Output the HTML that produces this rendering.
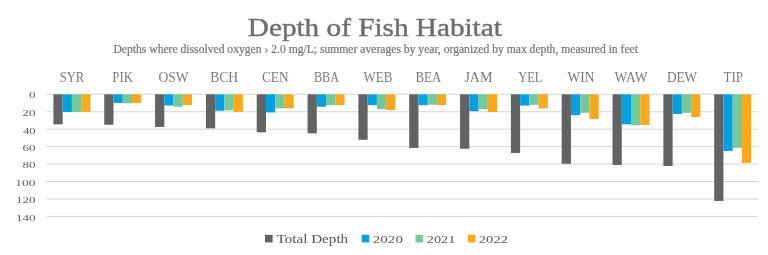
<!DOCTYPE html>
<html><head><meta charset="utf-8"><style>
html,body{margin:0;padding:0;background:#fff;width:768px;height:255px;overflow:hidden}
svg{display:block;will-change:transform}
text{font-family:"Liberation Serif",serif}
</style></head><body>
<svg width="768" height="255" viewBox="0 0 768 255">
<rect x="46.5" y="93.80" width="711.5" height="1" fill="#d6d6d6"/>
<rect x="46.5" y="111.24" width="711.5" height="1" fill="#d6d6d6"/>
<rect x="46.5" y="128.68" width="711.5" height="1" fill="#d6d6d6"/>
<rect x="46.5" y="146.12" width="711.5" height="1" fill="#d6d6d6"/>
<rect x="46.5" y="163.56" width="711.5" height="1" fill="#d6d6d6"/>
<rect x="46.5" y="181.00" width="711.5" height="1" fill="#d6d6d6"/>
<rect x="46.5" y="198.44" width="711.5" height="1" fill="#d6d6d6"/>
<rect x="46.5" y="215.88" width="711.5" height="1" fill="#d6d6d6"/>
<rect x="53.41" y="94.30" width="9.25" height="30.05" fill="#636365"/>
<rect x="62.66" y="94.30" width="9.25" height="17.65" fill="#05a0e2"/>
<rect x="71.91" y="94.30" width="9.25" height="17.65" fill="#72c99a"/>
<rect x="81.16" y="94.30" width="9.25" height="17.65" fill="#f9a81d"/>
<rect x="104.24" y="94.30" width="9.25" height="30.45" fill="#636365"/>
<rect x="113.49" y="94.30" width="9.25" height="8.65" fill="#05a0e2"/>
<rect x="122.74" y="94.30" width="9.25" height="9.05" fill="#72c99a"/>
<rect x="131.99" y="94.30" width="9.25" height="8.65" fill="#f9a81d"/>
<rect x="155.06" y="94.30" width="9.25" height="32.65" fill="#636365"/>
<rect x="164.31" y="94.30" width="9.25" height="11.25" fill="#05a0e2"/>
<rect x="173.56" y="94.30" width="9.25" height="12.45" fill="#72c99a"/>
<rect x="182.81" y="94.30" width="9.25" height="10.85" fill="#f9a81d"/>
<rect x="205.90" y="94.30" width="9.25" height="34.05" fill="#636365"/>
<rect x="215.15" y="94.30" width="9.25" height="16.45" fill="#05a0e2"/>
<rect x="224.40" y="94.30" width="9.25" height="16.05" fill="#72c99a"/>
<rect x="233.65" y="94.30" width="9.25" height="17.65" fill="#f9a81d"/>
<rect x="256.72" y="94.30" width="9.25" height="38.05" fill="#636365"/>
<rect x="265.97" y="94.30" width="9.25" height="18.05" fill="#05a0e2"/>
<rect x="275.22" y="94.30" width="9.25" height="14.05" fill="#72c99a"/>
<rect x="284.47" y="94.30" width="9.25" height="14.05" fill="#f9a81d"/>
<rect x="307.56" y="94.30" width="9.25" height="39.05" fill="#636365"/>
<rect x="316.81" y="94.30" width="9.25" height="12.45" fill="#05a0e2"/>
<rect x="326.06" y="94.30" width="9.25" height="10.85" fill="#72c99a"/>
<rect x="335.31" y="94.30" width="9.25" height="10.85" fill="#f9a81d"/>
<rect x="358.38" y="94.30" width="9.25" height="45.45" fill="#636365"/>
<rect x="367.63" y="94.30" width="9.25" height="10.85" fill="#05a0e2"/>
<rect x="376.88" y="94.30" width="9.25" height="14.85" fill="#72c99a"/>
<rect x="386.13" y="94.30" width="9.25" height="15.65" fill="#f9a81d"/>
<rect x="409.21" y="94.30" width="9.25" height="53.65" fill="#636365"/>
<rect x="418.46" y="94.30" width="9.25" height="10.85" fill="#05a0e2"/>
<rect x="427.71" y="94.30" width="9.25" height="10.45" fill="#72c99a"/>
<rect x="436.96" y="94.30" width="9.25" height="10.85" fill="#f9a81d"/>
<rect x="460.05" y="94.30" width="9.25" height="54.45" fill="#636365"/>
<rect x="469.30" y="94.30" width="9.25" height="16.85" fill="#05a0e2"/>
<rect x="478.55" y="94.30" width="9.25" height="14.85" fill="#72c99a"/>
<rect x="487.80" y="94.30" width="9.25" height="17.65" fill="#f9a81d"/>
<rect x="510.88" y="94.30" width="9.25" height="58.65" fill="#636365"/>
<rect x="520.12" y="94.30" width="9.25" height="11.25" fill="#05a0e2"/>
<rect x="529.38" y="94.30" width="9.25" height="10.45" fill="#72c99a"/>
<rect x="538.62" y="94.30" width="9.25" height="14.05" fill="#f9a81d"/>
<rect x="561.71" y="94.30" width="9.25" height="69.45" fill="#636365"/>
<rect x="570.96" y="94.30" width="9.25" height="20.85" fill="#05a0e2"/>
<rect x="580.21" y="94.30" width="9.25" height="18.45" fill="#72c99a"/>
<rect x="589.46" y="94.30" width="9.25" height="24.65" fill="#f9a81d"/>
<rect x="612.53" y="94.30" width="9.25" height="70.65" fill="#636365"/>
<rect x="621.78" y="94.30" width="9.25" height="30.05" fill="#05a0e2"/>
<rect x="631.03" y="94.30" width="9.25" height="31.05" fill="#72c99a"/>
<rect x="640.28" y="94.30" width="9.25" height="30.65" fill="#f9a81d"/>
<rect x="663.37" y="94.30" width="9.25" height="71.65" fill="#636365"/>
<rect x="672.62" y="94.30" width="9.25" height="19.65" fill="#05a0e2"/>
<rect x="681.87" y="94.30" width="9.25" height="18.45" fill="#72c99a"/>
<rect x="691.12" y="94.30" width="9.25" height="22.65" fill="#f9a81d"/>
<rect x="714.19" y="94.30" width="9.25" height="106.65" fill="#636365"/>
<rect x="723.44" y="94.30" width="9.25" height="56.65" fill="#05a0e2"/>
<rect x="732.69" y="94.30" width="9.25" height="53.45" fill="#72c99a"/>
<rect x="741.94" y="94.30" width="9.25" height="68.65" fill="#f9a81d"/>
<rect x="265" y="234.8" width="7.6" height="7.6" fill="#636365"/>
<rect x="361.7" y="234.8" width="7.6" height="7.6" fill="#05a0e2"/>
<rect x="415.5" y="234.8" width="7.6" height="7.6" fill="#72c99a"/>
<rect x="467.8" y="234.8" width="7.6" height="7.6" fill="#f9a81d"/>
<text x="247.84" y="36.00" font-size="26.00" fill="#6e6e6e" stroke="#6e6e6e" stroke-width="0.42" textLength="254.00" lengthAdjust="spacingAndGlyphs">Depth of Fish Habitat</text>
<text x="113.46" y="52.90" font-size="11.50" fill="#747474" stroke="#747474" stroke-width="0.2" textLength="524.54" lengthAdjust="spacingAndGlyphs">Depths where dissolved oxygen › 2.0 mg/L; summer averages by year, organized by max depth, measured in feet</text>
<text x="59.72" y="81.60" font-size="14.50" fill="#7a7a7a" textLength="24.44" lengthAdjust="spacingAndGlyphs">SYR</text>
<text x="112.34" y="81.60" font-size="14.50" fill="#7a7a7a" textLength="20.66" lengthAdjust="spacingAndGlyphs">PIK</text>
<text x="158.38" y="81.60" font-size="14.50" fill="#7a7a7a" textLength="30.20" lengthAdjust="spacingAndGlyphs">OSW</text>
<text x="210.26" y="81.60" font-size="14.50" fill="#7a7a7a" textLength="27.86" lengthAdjust="spacingAndGlyphs">BCH</text>
<text x="261.96" y="81.60" font-size="14.50" fill="#7a7a7a" textLength="26.62" lengthAdjust="spacingAndGlyphs">CEN</text>
<text x="313.88" y="81.60" font-size="14.50" fill="#7a7a7a" textLength="25.24" lengthAdjust="spacingAndGlyphs">BBA</text>
<text x="363.58" y="81.60" font-size="14.50" fill="#7a7a7a" textLength="28.66" lengthAdjust="spacingAndGlyphs">WEB</text>
<text x="415.38" y="81.60" font-size="14.50" fill="#7a7a7a" textLength="25.86" lengthAdjust="spacingAndGlyphs">BEA</text>
<text x="464.38" y="81.60" font-size="14.50" fill="#7a7a7a" textLength="28.24" lengthAdjust="spacingAndGlyphs">JAM</text>
<text x="518.34" y="81.60" font-size="14.50" fill="#7a7a7a" textLength="23.90" lengthAdjust="spacingAndGlyphs">YEL</text>
<text x="567.54" y="81.60" font-size="14.50" fill="#7a7a7a" textLength="26.91" lengthAdjust="spacingAndGlyphs">WIN</text>
<text x="614.58" y="81.60" font-size="14.50" fill="#7a7a7a" textLength="32.92" lengthAdjust="spacingAndGlyphs">WAW</text>
<text x="666.92" y="81.60" font-size="14.50" fill="#7a7a7a" textLength="30.20" lengthAdjust="spacingAndGlyphs">DEW</text>
<text x="723.50" y="81.60" font-size="14.50" fill="#7a7a7a" textLength="19.50" lengthAdjust="spacingAndGlyphs">TIP</text>
<text x="29.00" y="98.40" font-size="9.00" fill="#5a5a5a" textLength="6.58" lengthAdjust="spacingAndGlyphs">0</text>
<text x="22.30" y="116.00" font-size="9.00" fill="#5a5a5a" textLength="13.28" lengthAdjust="spacingAndGlyphs">20</text>
<text x="23.00" y="133.60" font-size="9.00" fill="#5a5a5a" textLength="12.58" lengthAdjust="spacingAndGlyphs">40</text>
<text x="22.46" y="151.00" font-size="9.00" fill="#5a5a5a" textLength="13.12" lengthAdjust="spacingAndGlyphs">60</text>
<text x="22.46" y="168.40" font-size="9.00" fill="#5a5a5a" textLength="13.12" lengthAdjust="spacingAndGlyphs">80</text>
<text x="15.36" y="185.60" font-size="9.00" fill="#5a5a5a" textLength="20.22" lengthAdjust="spacingAndGlyphs">100</text>
<text x="15.90" y="203.00" font-size="9.00" fill="#5a5a5a" textLength="19.68" lengthAdjust="spacingAndGlyphs">120</text>
<text x="15.90" y="220.60" font-size="9.00" fill="#5a5a5a" textLength="19.68" lengthAdjust="spacingAndGlyphs">140</text>
<text x="276.46" y="243.10" font-size="13.00" fill="#555555" textLength="71.74" lengthAdjust="spacingAndGlyphs">Total Depth</text>
<text x="372.80" y="243.10" font-size="10.50" fill="#585858" textLength="30.15" lengthAdjust="spacingAndGlyphs">2020</text>
<text x="426.80" y="243.10" font-size="10.50" fill="#585858" textLength="28.60" lengthAdjust="spacingAndGlyphs">2021</text>
<text x="478.84" y="243.10" font-size="10.50" fill="#585858" textLength="29.11" lengthAdjust="spacingAndGlyphs">2022</text>
</svg>
</body></html>
